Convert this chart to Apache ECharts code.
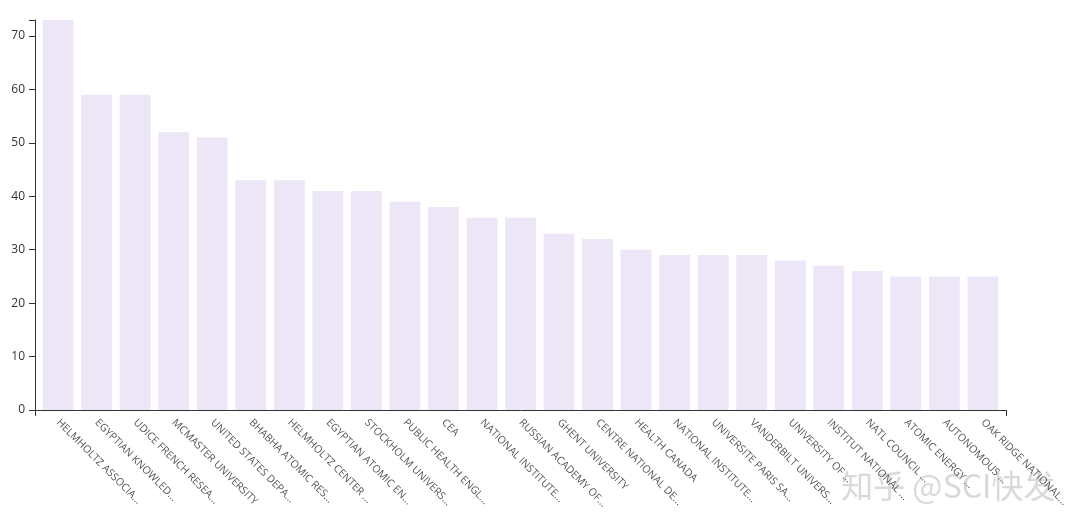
<!DOCTYPE html>
<html>
<head>
<meta charset="utf-8">
<script src="https://cdn.jsdelivr.net/npm/echarts@6/dist/echarts.min.js"></script>
<style>
  html, body { margin: 0; padding: 0; background: #fff; }
  #chart { width: 1080px; height: 530px; }
</style>
</head>
<body>
<div id="chart"></div>
<script>
const institutions = [
  'HELMHOLTZ ASSOCIA...', 'EGYPTIAN KNOWLED...', 'UDICE FRENCH RESEA...', 'MCMASTER UNIVERSITY',
  'UNITED STATES DEPA...', 'BHABHA ATOMIC RES...', 'HELMHOLTZ CENTER ...', 'EGYPTIAN ATOMIC EN...',
  'STOCKHOLM UNIVERS...', 'PUBLIC HEALTH ENGL...', 'CEA', 'NATIONAL INSTITUTE...',
  'RUSSIAN ACADEMY OF...', 'GHENT UNIVERSITY', 'CENTRE NATIONAL DE...', 'HEALTH CANADA',
  'NATIONAL INSTITUTE...', 'UNIVERSITE PARIS SA...', 'VANDERBILT UNIVERS...', 'UNIVERSITY OF ...',
  'INSTITUT NATIONAL ...', 'NATL COUNCIL ...', 'ATOMIC ENERGY ...', 'AUTONOMOUS ...',
  'OAK RIDGE NATIONAL...'
]
const counts = [73, 59, 59, 52, 51, 43, 43, 41, 41, 39, 38, 36, 36, 33, 32, 30, 29, 29, 29, 28, 27, 26, 25, 25, 25]
const yTicks = [0, 10, 20, 30, 40, 50, 60, 70]

const axisColor = '#333'
const yMax = Math.max(...counts)
const chart = echarts.init(document.getElementById('chart'))

// the frame axes span 35..1006; the bands sit inside with an outer padding
const frame = { left: 35, right: 74, top: 20, bottom: 120 }
const outerPad = 3.85

chart.setOption({
  animation: false,
  grid: [
    { left: frame.left + outerPad, right: frame.right + outerPad, top: frame.top, bottom: frame.bottom },
    frame
  ],
  xAxis: [
    {
      type: 'category',
      gridIndex: 0,
      data: institutions,
      boundaryGap: true,
      axisLine: { show: false },
      axisTick: { alignWithLabel: true, length: 6, lineStyle: { color: axisColor } },
      axisLabel: {
        interval: 0,
        rotate: -45,
        margin: 11,
        color: '#555',
        fontSize: 10.5,
        fontFamily: 'Open Sans'
      },
      splitLine: { show: false }
    },
    {
      type: 'value',
      gridIndex: 1,
      min: 0,
      max: 1,
      axisLine: { show: true, onZero: false, lineStyle: { color: axisColor, width: 1 } },
      axisTick: { show: true, length: 6, lineStyle: { color: axisColor }, customValues: [0, 1] },
      axisLabel: { show: false },
      splitLine: { show: false }
    }
  ],
  yAxis: [
    {
      type: 'value',
      gridIndex: 0,
      min: 0,
      max: yMax,
      show: false
    },
    {
      type: 'value',
      gridIndex: 1,
      min: 0,
      max: yMax,
      interval: 10,
      axisLine: { show: true, onZero: false, lineStyle: { color: axisColor, width: 1 } },
      axisTick: { show: true, length: 6, lineStyle: { color: axisColor }, customValues: yTicks.concat([yMax]) },
      axisLabel: { color: '#333', fontSize: 12, fontFamily: 'Open Sans', margin: 10, customValues: yTicks },
      splitLine: { show: false }
    }
  ],
  series: [{
    type: 'bar',
    xAxisIndex: 0,
    yAxisIndex: 0,
    data: counts,
    barCategoryGap: '20%',
    itemStyle: { color: '#ece6f7' }
  }],
  graphic: [{
    type: 'text',
    right: 24,
    bottom: 28,
    silent: true,
    style: {
      text: '知乎 @SCI快发',
      font: '32px "Noto Sans CJK SC"',
      fill: 'rgba(185,185,185,0.55)',
      stroke: 'rgba(255,255,255,0.6)',
      lineWidth: 1
    }
  }]
})
</script>
</body>
</html>
